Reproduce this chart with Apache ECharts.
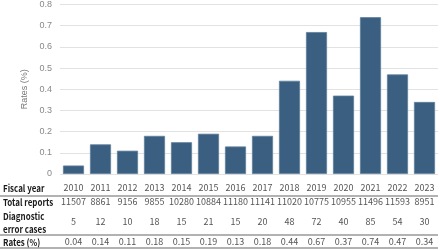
<!DOCTYPE html>
<html>
<head>
<meta charset="utf-8">
<script src="https://cdn.jsdelivr.net/npm/echarts@6/dist/echarts.min.js"></script>
<style>
  html, body { margin: 0; padding: 0; background: #fff; }
  #chart { width: 440px; height: 250px; }
</style>
</head>
<body>
<div id="chart"></div>
<script>
// data
var years = ['2010', '2011', '2012', '2013', '2014', '2015', '2016', '2017', '2018', '2019', '2020', '2021', '2022', '2023'];
var totalReports = [11507, 8861, 9156, 9855, 10280, 10884, 11180, 11141, 11020, 10775, 10955, 11496, 11593, 8951];
var errorCases = [5, 12, 10, 18, 15, 21, 15, 20, 48, 72, 40, 85, 54, 30];
var rates = [0.04, 0.14, 0.11, 0.18, 0.15, 0.19, 0.13, 0.18, 0.44, 0.67, 0.37, 0.74, 0.47, 0.34];
var rateLabels = ['0.04', '0.14', '0.11', '0.18', '0.15', '0.19', '0.13', '0.18', '0.44', '0.67', '0.37', '0.74', '0.47', '0.34'];

var tableFont = '"Noto Sans CJK JP", "Noto Sans", sans-serif';

// one extra x axis per table row, so the values sit under their bars
function rowAxis(values, offset) {
  return {
    type: 'category',
    data: years,
    position: 'bottom',
    offset: offset,
    axisLine: { show: false },
    axisTick: { show: false },
    axisLabel: {
      interval: 0,
      margin: 0,
      fontSize: 9,
      color: '#555',
      fontFamily: tableFont,
      formatter: function (v, i) { return String(values[i]); }
    }
  };
}

function rowTitle(text, y) {
  return {
    type: 'text',
    x: 3,
    y: y,
    scaleX: 0.84,
    style: { text: text, fill: '#1a1a1a', font: 'bold 9.5px ' + tableFont, verticalAlign: 'middle' }
  };
}

function rule(y) {
  return {
    type: 'line',
    shape: { x1: 0, y1: y, x2: 438, y2: y },
    style: { stroke: '#999', lineWidth: 1.5 }
  };
}

var chart = echarts.init(document.getElementById('chart'));

var option = {
  animation: false,
  grid: { left: 60, right: 2, top: 4, bottom: 76, containLabel: false },
  xAxis: [
    {
      type: 'category',
      data: years,
      axisLine: { show: false },
      axisTick: { show: false },
      axisLabel: { interval: 0, margin: 9, fontSize: 9, color: '#555', fontFamily: tableFont }
    },
    rowAxis(totalReports, 23),
    rowAxis(errorCases, 43),
    rowAxis(rateLabels, 63)
  ],
  yAxis: {
    type: 'value',
    min: 0,
    max: 0.8,
    interval: 0.1,
    name: 'Rates (%)',
    nameLocation: 'middle',
    nameGap: 25,
    nameTextStyle: { fontSize: 9, color: '#777', fontFamily: 'Liberation Sans, Arial, sans-serif' },
    axisLine: { show: false },
    axisTick: { show: false },
    axisLabel: {
      fontSize: 9,
      color: '#888',
      margin: 8,
      fontFamily: 'Liberation Sans, Arial, sans-serif',
      formatter: function (v) { return v === 0 ? '0' : v.toFixed(1); }
    },
    splitLine: { lineStyle: { color: '#e2e2e2', width: 1 } }
  },
  series: [
    {
      type: 'bar',
      data: rates,
      barCategoryGap: '22%',
      itemStyle: { color: '#3b5f80', borderColor: '#5f7f9b', borderWidth: 0.8 }
    }
  ],
  graphic: [
    rowTitle('Fiscal year', 188),
    rowTitle('Total reports', 202),
    rowTitle('Diagnostic', 216),
    rowTitle('error cases', 229),
    rowTitle('Rates (%)', 242),
    rule(196),
    rule(235),
    rule(248)
  ]
};

chart.setOption(option);
</script>
</body>
</html>
